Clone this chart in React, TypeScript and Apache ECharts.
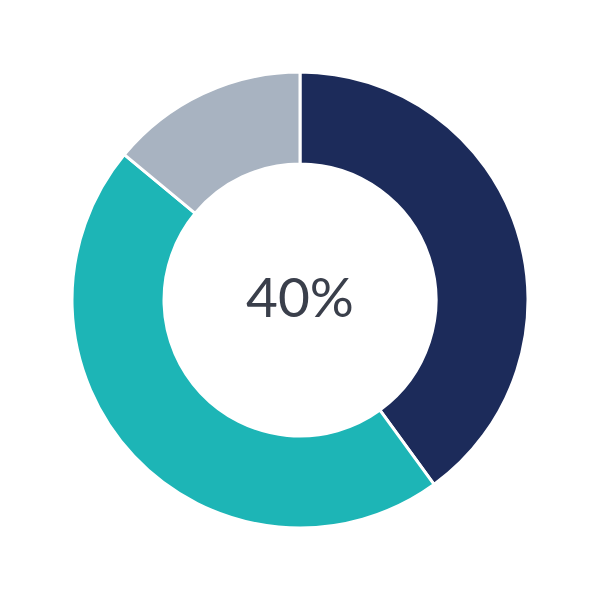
import React, { useEffect, useRef } from 'react'
import * as echarts from 'echarts'

const segmentNames = ['Share A', 'Share B', 'Share C']
const segmentValues = [40, 46, 14]
const segmentColors = ['#1c2b5a', '#1db5b6', '#a8b3c1']
const centerLabel = '40%'

const App: React.FC = () => {
  const chartRef = useRef<HTMLDivElement | null>(null)

  useEffect(() => {
    document.body.style.margin = '0'
    if (!chartRef.current) return
    const chart = echarts.init(chartRef.current, undefined, { renderer: 'svg' })

    const option: echarts.EChartsOption = {
      animation: false,
      backgroundColor: '#ffffff',
      graphic: [
        {
          type: 'text',
          left: 'center',
          top: 268,
          style: {
            text: centerLabel,
            fontFamily: 'Lato',
            fontWeight: 400,
            fontSize: 55,
            fill: '#3a3f4b'
          }
        }
      ],
      series: [
        {
          type: 'pie',
          center: ['50%', '50%'],
          radius: [136, 228],
          startAngle: 90,
          clockwise: true,
          label: { show: false },
          labelLine: { show: false },
          emphasis: { disabled: true },
          itemStyle: {
            borderColor: '#ffffff',
            borderWidth: 3
          },
          data: segmentNames.map((name, i) => ({
            name,
            value: segmentValues[i],
            itemStyle: { color: segmentColors[i] }
          }))
        }
      ]
    }

    chart.setOption(option)
    return () => {
      chart.dispose()
    }
  }, [])

  return <div ref={chartRef} style={{ width: 600, height: 600 }} />
}

export default App
